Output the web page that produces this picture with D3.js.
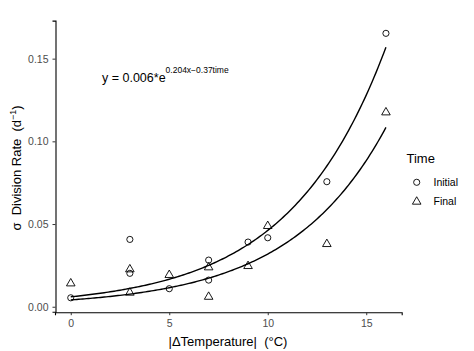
<!DOCTYPE html>
<html><head><meta charset="utf-8">
<script src="https://cdn.jsdelivr.net/npm/d3@7"></script>
<style>body{margin:0;background:#fff}svg{display:block;font-family:"Liberation Sans",Arial,sans-serif}text{white-space:pre}</style>
</head><body><svg id="c" width="474" height="351"></svg>
<script>
const xTicks = [0, 5, 10, 15];
const yTicks = [0.00, 0.05, 0.10, 0.15];
const initialX = [0, 3, 3, 5, 7, 7, 9, 10, 13, 16];
const initialY = [0.0054, 0.0407, 0.0202, 0.0109, 0.0282, 0.0161, 0.0391, 0.0417, 0.0756, 0.1653];
const finalX = [0, 3, 3, 5, 7, 7, 9, 10, 13, 16];
const finalY = [0.0141, 0.0226, 0.0085, 0.0192, 0.0238, 0.0060, 0.0246, 0.0488, 0.0379, 0.1175];
const coefA = 0.006, coefB = 0.204, coefT = -0.37;
const legendLabels = ["Initial", "Final"];

const svg = d3.select("#c");
const x = d3.scaleLinear().domain([-0.8, 16.8]).range([55, 401.7]);
const y = d3.scaleLinear().domain([-0.003, 0.173]).range([311.7, 20.6]);

// axes
const gx = svg.append("g").attr("transform", "translate(0,312.2)")
  .call(d3.axisBottom(x).tickValues(xTicks).tickSize(3).tickPadding(4).tickFormat(d3.format("d")));
const gy = svg.append("g").attr("transform", "translate(55.5,0)")
  .call(d3.axisLeft(y).tickValues(yTicks).tickSize(3).tickPadding(4).tickFormat(d3.format(".2f")));
[gx, gy].forEach(g => {
  g.select(".domain").attr("stroke", "#000").attr("stroke-width", 1.1);
  g.selectAll(".tick line").attr("stroke", "#333").attr("stroke-width", 1);
  g.selectAll(".tick text").attr("fill", "#4d4d4d").style("font-size", "10.5px").style("font-family", "Liberation Sans, Arial, sans-serif");
});

// fitted curves
const xs = d3.range(0, 16.001, 0.1);
const line = d3.line().x(d => x(d[0])).y(d => y(d[1]));
[0, 1].forEach(t => {
  svg.append("path")
    .datum(xs.map(v => [v, coefA * Math.exp(coefB * v + coefT * t)]))
    .attr("d", line).attr("fill", "none").attr("stroke", "#000").attr("stroke-width", 1.4);
});

// points
const circ = d3.symbol().type(d3.symbolCircle).size(30);
const tri = d3.symbol().type(d3.symbolTriangle).size(32);
svg.append("g").selectAll("path").data(initialX.map((v, i) => [v, initialY[i]])).join("path")
  .attr("d", circ).attr("transform", d => `translate(${x(d[0])},${y(d[1])})`)
  .attr("fill", "none").attr("stroke", "#000").attr("stroke-width", 0.9);
svg.append("g").selectAll("path").data(finalX.map((v, i) => [v, finalY[i]])).join("path")
  .attr("d", tri).attr("transform", d => `translate(${x(d[0])},${y(d[1])})`)
  .attr("fill", "none").attr("stroke", "#000").attr("stroke-width", 0.9);

// equation
const eq = svg.append("text").attr("x", 102).attr("y", 81.5).attr("fill", "#000").style("font-size", "12.5px");
eq.append("tspan").text("y = " + coefA + "*e");
eq.append("tspan").attr("dy", -9).style("font-size", "8.5px").text(coefB + "x\u2212" + Math.abs(coefT) + "time");

// axis titles
svg.append("text").attr("x", 228).attr("y", 346).attr("text-anchor", "middle").style("font-size", "13px")
  .text("|\u0394Temperature|  (\u00B0C)");
const yl = svg.append("text").attr("transform", "translate(21,168) rotate(-90)").attr("text-anchor", "middle").style("font-size", "13px");
yl.append("tspan").text("\u03C3  Division Rate  (d");
yl.append("tspan").attr("dy", -5).style("font-size", "9px").text("\u22121");
yl.append("tspan").attr("dy", 5).text(")");

// legend
svg.append("text").attr("x", 406.5).attr("y", 163).style("font-size", "13px").text("Time");
const leg = svg.append("g");
leg.append("path").attr("d", circ).attr("transform", "translate(416.7,182.3)").attr("fill", "none").attr("stroke", "#000").attr("stroke-width", 0.9);
leg.append("path").attr("d", tri).attr("transform", "translate(416.7,201.7)").attr("fill", "none").attr("stroke", "#000").attr("stroke-width", 0.9);
legendLabels.forEach((l, i) => {
  leg.append("text").attr("x", 433.5).attr("y", 186 + i * 19.4).style("font-size", "10.5px").attr("fill", "#000").text(l);
});
</script></body></html>
